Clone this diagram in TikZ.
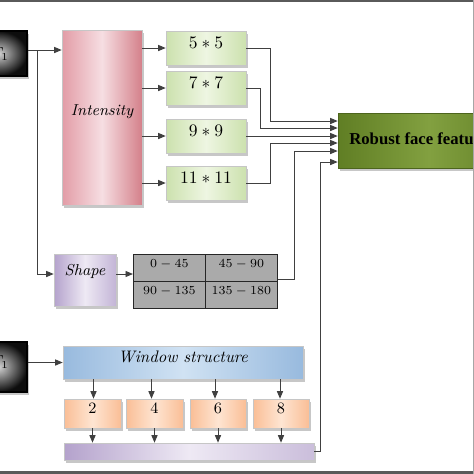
\documentclass[tikz,border=0pt]{standalone}
\usepackage{amsmath,amssymb}
\usepackage{fontspec}
\newfontfamily\robustfont{Liberation Serif}
\usepackage{xcolor}
\usepackage{tikz}
\usetikzlibrary{positioning,arrows.meta,fit,shadows}

\definecolor{pinkedge}{RGB}{226,156,166}
\definecolor{pinkmid}{RGB}{246,222,226}
\definecolor{pinkright}{RGB}{212,128,138}
\definecolor{greenedge}{RGB}{204,225,174}
\definecolor{greenmid}{RGB}{238,246,226}
\definecolor{oliveedge}{RGB}{96,126,36}
\definecolor{olivemid}{RGB}{130,160,64}
\definecolor{lilacedge}{RGB}{180,162,204}
\definecolor{lilacmid}{RGB}{238,233,244}
\definecolor{tablegray}{RGB}{170,170,170}
\definecolor{blueedge}{RGB}{152,186,222}
\definecolor{bluemid}{RGB}{208,226,243}
\definecolor{orangeedge}{RGB}{250,190,150}
\definecolor{orangemid}{RGB}{254,229,210}
\definecolor{framegray}{RGB}{90,90,90}

\begin{document}
\begin{tikzpicture}[
        x=0.02cm, y=-0.02cm,
        blk/.style={
            rectangle, inner sep=0pt, draw=gray!45, line width=0.3pt,
            drop shadow={shadow xshift=0.04cm, shadow yshift=-0.05cm, fill=black, opacity=0.22}
        },
        src/.style ={blk, draw=black, line width=0.8pt, shading=radial, inner color=gray!35, outer color=black!95},
        intbox/.style ={blk, left color=pinkedge, right color=pinkright, middle color=pinkmid,
            font=\fontsize{9}{11}\selectfont\itshape},
        greenbox/.style ={blk, left color=greenedge, right color=greenedge, middle color=greenmid,
            font=\fontsize{10}{12}\selectfont},
        robbox/.style ={blk, draw=oliveedge!80!black, left color=oliveedge, right color=oliveedge,
            middle color=olivemid, font=\fontsize{9.5}{11}\selectfont\robustfont\bfseries},
        shapebox/.style ={blk, left color=lilacedge, right color=lilacedge!80, middle color=lilacmid,
            font=\fontsize{9}{11}\selectfont\itshape},
        cell/.style ={rectangle, draw=gray!30!black, line width=0.5pt, fill=tablegray,
            minimum width=72*0.02cm, minimum height=27*0.02cm, inner sep=0pt,
            text depth=5pt, font=\fontsize{7.5}{9}\selectfont},
        winbox/.style ={blk, left color=blueedge, right color=blueedge, middle color=bluemid,
            font=\fontsize{9.5}{11}\selectfont\itshape},
        orbox/.style ={blk, left color=orangeedge, right color=orangeedge, middle color=orangemid,
            font=\fontsize{9}{11}\selectfont},
        barbox/.style ={blk, left color=lilacedge, right color=lilacedge!70, middle color=lilacmid},
        arrow/.style ={-{Triangle[length=1.5mm, width=1.2mm]}, line width=0.55pt, draw=black!75},
        wire/.style ={line width=0.55pt, draw=black!75}
    ]
        \useasboundingbox (0,0) rectangle (474,474);
        \clip (0,0) rectangle (474,474);

        % inputs
        \node[src, fit={(-30,31) (27,76)}] (srcA) {};
        \node[src, fit={(-30,342) (27,392)}] (srcB) {};
        \node[anchor=east, inner sep=0pt, text=black, font=\small] at (9,54) {$F_1$};
        \node[anchor=east, inner sep=0pt, text=black, font=\small] at (9,362) {$F_1$};

        % intensity branch
        \node[intbox, fit={(62,30) (142,205)}] (int) {Intensity};
        \node[greenbox, fit={(166,31) (246,65)}]  (g5)  {$5*5$};
        \node[greenbox, fit={(166,71) (246,105)}] (g7)  {$7*7$};
        \node[greenbox, fit={(166,119) (246,153)}] (g9)  {$9*9$};
        \node[greenbox, fit={(166,166) (246,200)}] (g11) {$11*11$};

        \node[robbox, fit={(338,113) (520,168)}, inner xsep=0pt] (rob) {};
        \node[anchor=west, inner sep=0pt, font=\fontsize{9.5}{11}\selectfont\robustfont\bfseries]
            (robtxt) at (349,139) {Robust face features};

        % shape branch
        \node[shapebox, fit={(54,254) (116,306)}] (shp) {\raisebox{0.1cm}{Shape}};
        \node[cell, anchor=north west] (c1) at (133,254) {$0-45$};
        \node[cell, anchor=north west] (c2) at (205,254) {$45-90$};
        \node[cell, anchor=north west] (c3) at (133,281) {$90-135$};
        \node[cell, anchor=north west] (c4) at (205,281) {$135-180$};

        % window branch
        \node[winbox, fit={(63,346) (303,379)}] (win) {Window structure};
        \node[orbox, fit={(64,399) (121,428)}]  (o2) {2\hspace{0.25cm}};
        \node[orbox, fit={(126,399) (183,428)}] (o4) {4\hspace{0.25cm}};
        \node[orbox, fit={(190,399) (246,428)}] (o6) {6\hspace{0.2cm}};
        \node[orbox, fit={(253,399) (309,428)}] (o8) {8\hspace{0.2cm}};
        \node[barbox, fit={(64,443) (314,460)}] (bar) {};

        % connectors
        \coordinate (split) at (37,50);
        \draw[arrow] (srcA.east |- split) -- (int.west |- split);
        \draw[arrow] (split) |- (shp.west |- 0,274);
        \draw[arrow] (int.east |- g5.west)  -- (g5.west);
        \draw[arrow] (int.east |- g7.west)  -- (g7.west);
        \draw[arrow] (int.east |- g9.west)  -- (g9.west);
        \draw[arrow] (int.east |- g11.west) -- (g11.west);

        \draw[arrow] (g5.east)  -- ++(24,0) |- (rob.west |- 0,121);
        \draw[arrow] (g7.east)  -- ++(14,0) |- (rob.west |- 0,128);
        \draw[arrow] (g9.east)  -- (rob.west |- g9.east);
        \draw[arrow] (g11.east) -- ++(24,0) |- (rob.west |- 0,143);
        \draw[arrow] (c2.east |- 0,279) -- (294,279) |- (rob.west |- 0,151);
        \draw[arrow] (bar.east) -- ++(6,0) |- (rob.west |- 0,162);

        \draw[arrow] (shp.east |- 0,274) -- (c1.west |- 0,274);
        \draw[arrow] (srcB.east |- win.west) -- (win.west);
        \foreach \o/\dx in {o2/1, o4/-3, o6/-3, o8/-1} {
            \draw[arrow] ([xshift=\dx*0.02cm]\o.north |- win.south) -- ([xshift=\dx*0.02cm]\o.north);
            \draw[arrow] (\o.south) -- (\o.south |- bar.north);
        }

        % frame
        \fill[framegray] (0,0) rectangle (474,2);
        \fill[framegray] (0,471) rectangle (474,474);
        \draw[gray!70, line width=0.4pt] (473.5,0) -- (473.5,474);
    \end{tikzpicture}
\end{document}
